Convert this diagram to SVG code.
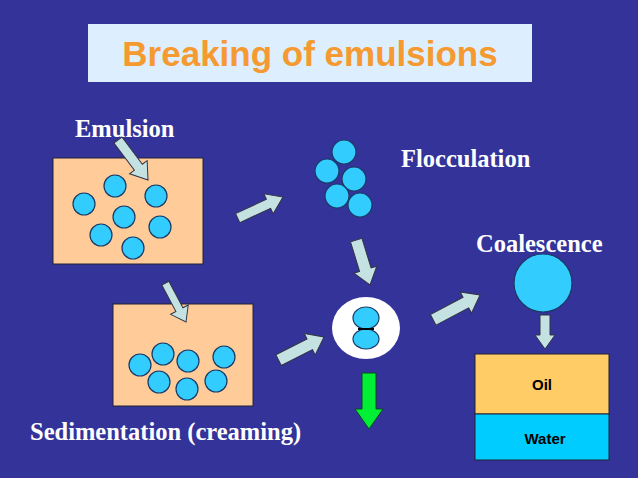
<svg xmlns="http://www.w3.org/2000/svg" width="638" height="478" viewBox="0 0 638 478">
<style>
.lbl{font-family:"Liberation Serif",serif;font-weight:bold;font-size:24.5px;fill:#fff}
.drop{fill:#33ccff;stroke:#1a3a66;stroke-width:1.2}
.ar{fill:#c4e2e2;stroke:#334;stroke-width:1}
.box{font-family:"Liberation Sans",sans-serif;font-weight:bold;font-size:15px;fill:#000;text-anchor:middle}
</style>
<rect width="638" height="478" fill="#333399"/>
<g id="title"><rect x="88" y="24" width="444" height="58" fill="#ddeeff"/>
<text x="310" y="66" text-anchor="middle" font-family="Liberation Sans,sans-serif" font-weight="bold" font-size="35" fill="#f59a30">Breaking of emulsions</text></g>
<g id="emulsion"><rect x="53" y="158" width="150" height="106" fill="#ffcc99" stroke="#223" stroke-width="1"/>
<circle class="drop" cx="115" cy="186" r="11"/><circle class="drop" cx="84" cy="204" r="11"/><circle class="drop" cx="156" cy="196" r="11"/><circle class="drop" cx="124" cy="217" r="11"/><circle class="drop" cx="101" cy="235" r="11"/><circle class="drop" cx="160" cy="227" r="11"/><circle class="drop" cx="133" cy="248" r="11"/>
<text class="lbl" x="75" y="137">Emulsion</text></g>
<g id="sedimentation"><rect x="113" y="304" width="140" height="102" fill="#ffcc99" stroke="#223" stroke-width="1"/>
<circle class="drop" cx="140" cy="365" r="11"/><circle class="drop" cx="163" cy="354" r="11"/><circle class="drop" cx="188" cy="361" r="11"/><circle class="drop" cx="224" cy="357" r="11"/><circle class="drop" cx="159" cy="382" r="11"/><circle class="drop" cx="187" cy="389" r="11"/><circle class="drop" cx="216" cy="381" r="11"/>
<text class="lbl" x="30" y="440">Sedimentation (creaming)</text></g>
<g id="flocculation"><circle class="drop" cx="344" cy="152" r="12"/><circle class="drop" cx="327" cy="171" r="12"/><circle class="drop" cx="354" cy="179" r="12"/><circle class="drop" cx="337" cy="196" r="12"/><circle class="drop" cx="360" cy="205" r="12"/>
<text class="lbl" x="401" y="167">Flocculation</text></g>
<g id="coalescing"><ellipse cx="366" cy="328" rx="34" ry="31" fill="#fff"/>
<ellipse class="drop" cx="366" cy="318" rx="13" ry="11"/><ellipse class="drop" cx="366" cy="339" rx="13" ry="10"/><line x1="358" y1="329" x2="374" y2="329" stroke="#000" stroke-width="2"/></g>
<g id="coalescence"><circle class="drop" cx="543" cy="283" r="29"/><text class="lbl" x="476" y="252">Coalescence</text></g>
<g id="separated"><rect x="475" y="354" width="134" height="60" fill="#ffcc66" stroke="#223"/><rect x="475" y="414" width="134" height="46" fill="#00ccff" stroke="#223"/>
<text class="box" x="542" y="390">Oil</text><text class="box" x="545" y="444">Water</text></g>
<g id="connectors">
<polygon class="ar" transform="translate(148,180) rotate(53)" points="-50,-5 -16,-5 -16,-11 0,0 -16,11 -16,5 -50,5"/>
<polygon class="ar" transform="translate(283,197) rotate(-25)" points="-50,-5 -16,-5 -16,-11 0,0 -16,11 -16,5 -50,5"/>
<polygon class="ar" transform="translate(370,285) rotate(73)" points="-47,-6 -16,-6 -16,-12 0,0 -16,12 -16,6 -47,6"/>
<polygon class="ar" transform="translate(186,322) rotate(62)" points="-44,-4 -14,-4 -14,-10 0,0 -14,10 -14,4 -44,4"/>
<polygon class="ar" transform="translate(324,337) rotate(-27)" points="-51,-6 -16,-6 -16,-12 0,0 -16,12 -16,6 -51,6"/>
<polygon class="ar" transform="translate(480,295) rotate(-28)" points="-53,-6 -16,-6 -16,-12 0,0 -16,12 -16,6 -53,6"/>
<polygon class="ar" transform="translate(545,349) rotate(90)" points="-34,-5 -14,-5 -14,-10 0,0 -14,10 -14,5 -34,5"/>
<polygon fill="#00ee33" stroke="#0a4a20" stroke-width="1" transform="translate(369,429) rotate(90)" points="-56,-7 -20,-7 -20,-14 0,0 -20,14 -20,7 -56,7"/>
</g>
</svg>
